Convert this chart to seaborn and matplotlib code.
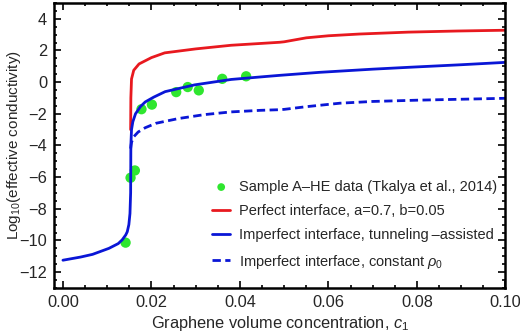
# -*- coding: utf-8 -*-
# Effective conductivity vs graphene volume concentration
#
import numpy as np
import pandas as pd
from matplotlib import pyplot as plt
from matplotlib.ticker import MultipleLocator
import seaborn as sns

sns.set_style("ticks")
plt.rcParams['font.family'] = ['Liberation Sans', 'DejaVu Sans']
plt.rcParams['mathtext.fontset'] = 'custom'
plt.rcParams['mathtext.rm'] = 'Liberation Sans'
plt.rcParams['mathtext.it'] = 'Liberation Sans:italic'

# Data ~~~~~~~~~~~~~~~~~~~~~~~~~~~~~~~~~~~~~~~~~~~~~~~~~~~~~~~~~~~~~~~~
exp_c = [0.01416, 0.01528, 0.01626, 0.01775, 0.0201, 0.0256, 0.0282, 0.0307, 0.0360, 0.0414]
exp_logk = [-10.14, -6.04, -5.58, -1.71, -1.42, -0.63, -0.31, -0.52, 0.21, 0.37]

perfect_c = [0.01530, 0.01535, 0.0155, 0.0160, 0.0172, 0.020, 0.023, 0.030, 0.038,
             0.045, 0.049, 0.050, 0.055, 0.060, 0.067, 0.078, 0.089, 0.100]
perfect_logk = [-3.0, -1.0, 0.2, 0.75, 1.15, 1.55, 1.85, 2.1, 2.33,
                2.45, 2.52, 2.55, 2.8, 2.93, 3.04, 3.16, 3.23, 3.28]

tunnel_c = [0.0, 0.004, 0.0067, 0.0104, 0.0125, 0.0134, 0.0142, 0.01454, 0.0149, 0.01515,
            0.0153, 0.01535, 0.0155, 0.0158, 0.0164, 0.0175, 0.0186, 0.0205, 0.0231,
            0.0298, 0.038, 0.0447, 0.049, 0.058, 0.070, 0.0783, 0.090, 0.100]
tunnel_logk = [-11.25, -11.05, -10.88, -10.5, -10.2, -9.96, -9.65, -9.45, -9.0, -8.3,
               -7.0, -4.0, -3.0, -2.5, -2.0, -1.55, -1.25, -0.95, -0.6,
               -0.17, 0.17, 0.33, 0.43, 0.62, 0.82, 0.94, 1.1, 1.25]

const_c = [0.0153, 0.0155, 0.0160, 0.0170, 0.0186, 0.021, 0.0261, 0.032, 0.038,
           0.0447, 0.049, 0.050, 0.055, 0.0626, 0.070, 0.080, 0.090, 0.100]
const_logk = [-4.2, -3.8, -3.45, -3.15, -2.88, -2.6, -2.3, -2.05, -1.88,
              -1.78, -1.74, -1.72, -1.55, -1.33, -1.22, -1.14, -1.08, -1.02]

red = '#e8191f'
blue = '#0a16d6'
green = '#2fe62f'

# Plot ~~~~~~~~~~~~~~~~~~~~~~~~~~~~~~~~~~~~~~~~~~~~~~~~~~~~~~~~~~~~~~~~~
fig, ax = plt.subplots(figsize=(5.2, 3.34), dpi=100)
fig.subplots_adjust(left=0.104, right=0.972, top=0.991, bottom=0.138)

sns.lineplot(x=perfect_c, y=perfect_logk, color=red, lw=2.0, sort=False, ax=ax,
             label='Perfect interface, a=0.7, b=0.05')
sns.lineplot(x=tunnel_c, y=tunnel_logk, color=blue, lw=2.0, sort=False, ax=ax,
             label='Imperfect interface, tunneling\u2009\u2013assisted')
sns.lineplot(x=const_c, y=const_logk, color=blue, lw=2.0, sort=False, ax=ax,
             dashes=False, label=r'Imperfect interface, constant $\rho_0$')
ax.lines[-1].set_dashes((3, 1.6))
sns.scatterplot(x=exp_c, y=exp_logk, color=green, s=55, edgecolor='none', ax=ax,
                label='Sample A\u2013HE data (Tkalya et al., 2014)', zorder=1)

ax.set_xlim(-0.002, 0.1)
ax.set_ylim(-13, 5)
ax.xaxis.set_major_locator(MultipleLocator(0.02))
ax.xaxis.set_minor_locator(MultipleLocator(0.005))
ax.yaxis.set_major_locator(MultipleLocator(2))
ax.yaxis.set_minor_locator(MultipleLocator(0.5))
ax.xaxis.set_major_formatter(plt.FuncFormatter(lambda v, p: f'{v:.2f}'))
ax.yaxis.set_major_formatter(plt.FuncFormatter(lambda v, p: f'{v:.0f}'.replace('-', '\u2212')))
ax.tick_params(which='both', direction='in', top=True, right=True, labelsize=11.8,
               width=1.2, color='black')
ax.tick_params(which='major', length=5, pad=5)
ax.tick_params(which='minor', length=2.5)
for sp in ax.spines.values():
    sp.set_linewidth(1.8)
    sp.set_color('black')

ax.set_xlabel('Graphene volume concentration, $c_1$', fontsize=11.8, labelpad=3)
ax.set_ylabel('Log$_{10}$(effective conductivity)', fontsize=11)
ax.yaxis.set_label_coords(-0.068, 0.5)

h, l = ax.get_legend_handles_labels()
order = [3, 0, 1, 2]
ax.legend([h[i] for i in order], [l[i] for i in order], loc='lower right',
          bbox_to_anchor=(1.01, 0.015), frameon=False, fontsize=10.5,
          handlelength=1.2, handletextpad=0.6, labelspacing=0.7, markerscale=0.75)

plt.savefig('out.png', dpi=100)
